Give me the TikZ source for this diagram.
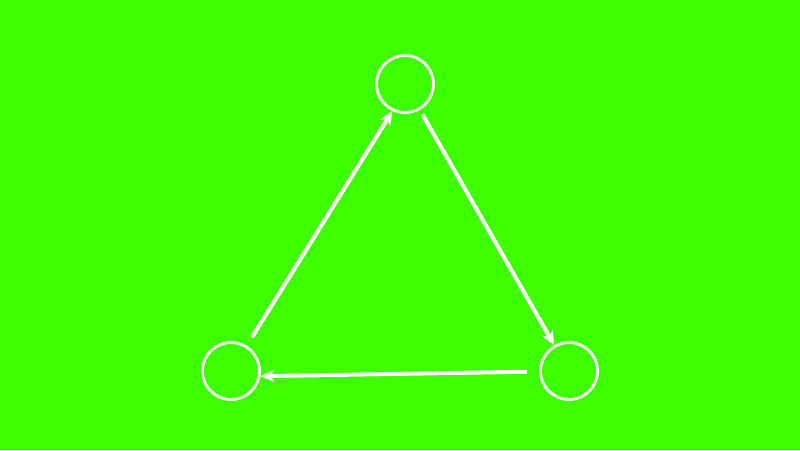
\documentclass[tikz,border=0pt]{standalone}
\usetikzlibrary{arrows.meta}
\definecolor{screengreen}{RGB}{62,255,0}
\tikzset{vx/.append style={minimum size=1.14cm, draw=white, circle, inner sep=0pt, line width=1.6pt}}
\tikzset{ar/.append style={draw=white, line width=2.3pt, -{Stealth[length=8pt,width=7pt]}}}

\begin{document}
\begin{tikzpicture}[x=0.02cm,y=-0.02cm]
                % background
                \fill[screengreen] (0,0) rectangle (800,450);
                \node[vx] (t) at (405,84) {};
                \node[vx] (l) at (231,371) {};
                \node[vx] (r) at (569,371) {};
                \path (l) edge[ar, shorten <=5.5pt] (t.-115);
                \path (t) edge[ar, shorten <=3pt] (r);
                \path (r) edge[ar, shorten <=7pt] (l.-10);
            \end{tikzpicture}
\end{document}
